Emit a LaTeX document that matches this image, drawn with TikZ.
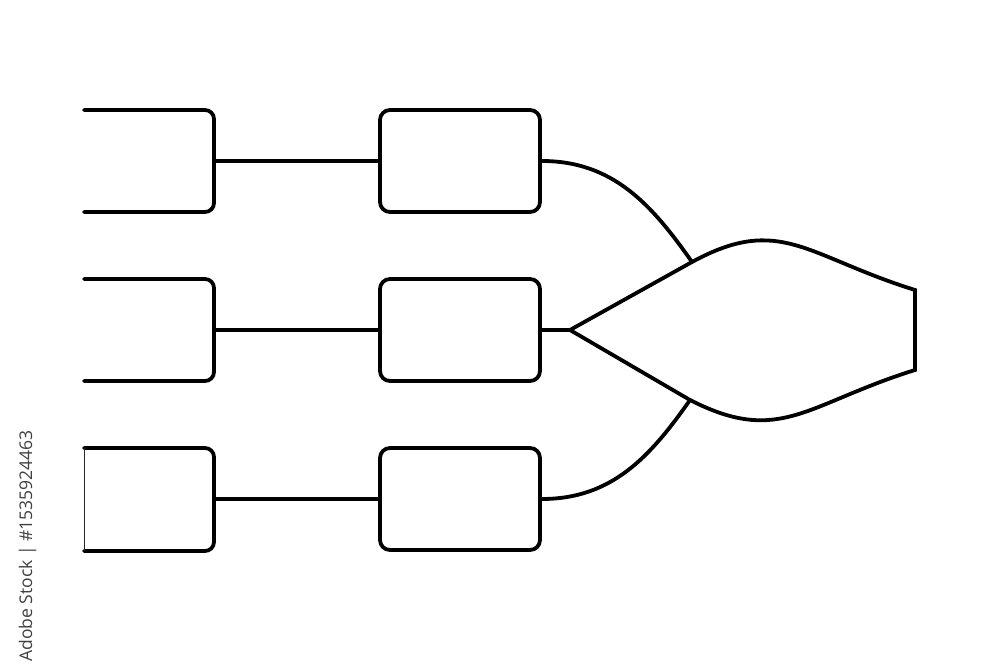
\documentclass[tikz,border=0pt]{standalone}
\usepackage{fontspec}
\newfontfamily\wmfont{Open Sans}
\begin{document}
\begin{tikzpicture}[x=1pt,y=1pt,
  ln/.style={line width=3.8pt, black, line cap=round, line join=round},
  midbox/.style={ln, rounded corners=10pt, minimum width=160pt, minimum height=102pt, inner sep=0pt},
  leftbox/.style={ln, rounded corners=9pt},
  thinedge/.style={line width=0.8pt, black!85}
]
\useasboundingbox[fill=white] (0,0) rectangle (1000,667);

% middle boxes
\node[midbox, draw] (m1) at (460,506) {};
\node[midbox, draw] (m2) at (460,337) {};
\node[midbox, draw] (m3) at (460,168) {};

% left open boxes
\draw[leftbox] (84,557) -- (214,557) -- (214,455) -- (84,455);
\draw[leftbox] (84,388) -- (214,388) -- (214,286) -- (84,286);
\draw[leftbox] (84,219) -- (214,219) -- (214,116) -- (84,116);
\draw[thinedge] (84,219) -- (84,116);
\coordinate (l1) at (214,506);
\coordinate (l2) at (214,337);
\coordinate (l3) at (214,168);

\draw[ln] (l1) -- (m1.west);
\draw[ln] (l2) -- (m2.west);
\draw[ln] (l3) -- (m3.west);

% lens
\coordinate (V) at (570,337);
\coordinate (U) at (692,405);
\coordinate (R1) at (915,377);
\coordinate (R2) at (915,297);
\coordinate (D) at (690,267);
\draw[line width=3.8pt, line join=miter] (V) -- (U) .. controls (780,453) and (806,411) .. (R1) -- (R2) .. controls (806,263) and (780,221) .. (D) -- cycle;

% connectors to lens
\draw[ln] (m1.east) to[out=0,in=125] (U);
\draw[ln] (m2.east) -- (V);
\draw[ln] (m3.east) to[out=0,in=-125] (D);

% vertical stock label
\node[rotate=90, anchor=base west, inner sep=0pt, text=black!75, font=\wmfont\fontsize{17.5}{20}\selectfont] (wm) at (32,5) {Adobe Stock | \#1535924463};
\end{tikzpicture}
\end{document}
